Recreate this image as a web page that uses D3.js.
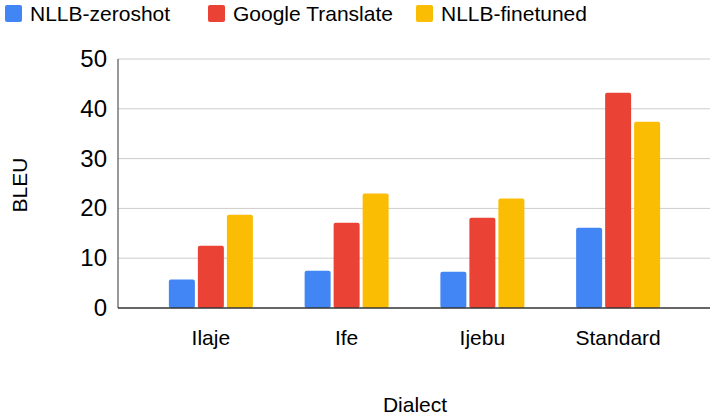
<!DOCTYPE html><html><head><script src="https://cdn.jsdelivr.net/npm/d3@7"></script>
<style>body{margin:0}text{font-family:Arial,"Liberation Sans",sans-serif}</style></head><body><svg width="710" height="415"></svg>
<script>
const categories=["Ilaje","Ife","Ijebu","Standard"];
const series=["NLLB-zeroshot","Google Translate","NLLB-finetuned"];
const zeroshot=[5.7,7.5,7.3,16.1];
const google=[12.5,17.1,18.1,43.2];
const finetuned=[18.7,23.0,22.0,37.4];
const yTicks=[0,10,20,30,40,50];
const colors=["#4285f4","#ea4335","#fbbc04"];
const vals=[zeroshot,google,finetuned];
const svg=d3.select("svg");
const y=d3.scaleLinear().domain([0,50]).range([308,59]);
const x=d3.scaleBand().domain(categories).range([143,686]);
const bw=26,gap=3;
svg.append("g").selectAll("line").data(yTicks.slice(1)).join("line")
 .attr("x1",118).attr("x2",710).attr("y1",d=>y(d)).attr("y2",d=>y(d)).attr("stroke","#ccc");
svg.append("line").attr("x1",118).attr("x2",118).attr("y1",59).attr("y2",308).attr("stroke","#333");
svg.append("g").selectAll("text").data(yTicks).join("text").attr("x",107).attr("y",d=>y(d)+8)
 .attr("text-anchor","end").attr("font-size",24).text(d=>d);
vals.forEach((arr,si)=>{
 svg.append("g").selectAll("rect").data(arr).join("rect")
  .attr("x",(d,i)=>x(categories[i])+x.bandwidth()/2+(si-1)*(bw+gap)-bw/2)
  .attr("width",bw).attr("y",d=>y(d)).attr("height",d=>y(0)-y(d)).attr("fill",colors[si])
  .attr("rx",2);
});
svg.append("line").attr("x1",118).attr("x2",710).attr("y1",308).attr("y2",308).attr("stroke","#333").attr("stroke-width",1.5);
svg.append("g").selectAll("text").data(categories).join("text").attr("x",d=>x(d)+x.bandwidth()/2).attr("y",345)
 .attr("text-anchor","middle").attr("font-size",21).text(d=>d);
svg.append("text").attr("x",415).attr("y",412).attr("text-anchor","middle").attr("font-size",21).text("Dialect");
svg.append("text").attr("transform","translate(27,185) rotate(-90)").attr("text-anchor","middle").attr("font-size",21).text("BLEU");
const lx=[5,208,416];
series.forEach((s,i)=>{
 svg.append("rect").attr("x",lx[i]).attr("y",5).attr("width",17).attr("height",17).attr("fill",colors[i]).attr("rx",2);
 svg.append("text").attr("x",lx[i]+25).attr("y",21).attr("font-size",21).text(s);
});
</script></body></html>
